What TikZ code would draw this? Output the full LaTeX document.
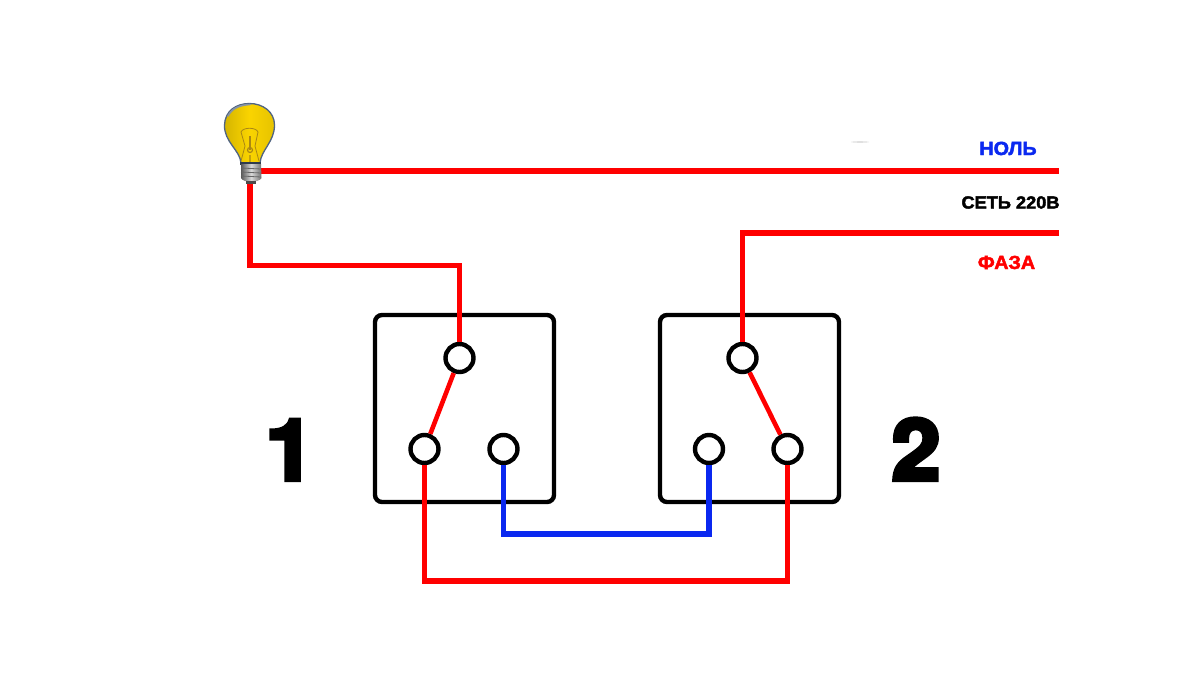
\documentclass[tikz,border=0pt]{standalone}
\usepackage{fontspec}
\setmainfont{Liberation Sans}
\newfontfamily\capfont[FakeBold=2.4,FakeStretch=1.04]{Liberation Sans Bold}
\newfontfamily\digitfont[FakeBold=5,FakeStretch=1.03]{TeX Gyre Heros Bold}
\definecolor{wirered}{RGB}{255,0,0}
\definecolor{wireblue}{RGB}{10,40,240}
\definecolor{bulbyellow}{RGB}{250,212,0}
\definecolor{bulbdark}{RGB}{170,135,20}
\definecolor{bulbedge}{RGB}{80,100,130}
\begin{document}
\begin{tikzpicture}[x=1pt,y=-1pt,
  switchbox/.style={draw=black,line width=4.4pt,rounded corners=7pt,minimum width=179pt,minimum height=187pt,inner sep=0pt,fill=white},
  terminal/.style={draw=black,line width=4.4pt,circle,minimum size=28pt,inner sep=0pt,fill=white},
  redwire/.style={draw=wirered,line width=5.2pt,line join=miter},
  bluewire/.style={draw=wireblue,line width=5.2pt,line join=miter},
  switchwire/.style={draw=wirered,line width=4.6pt},
  caption/.style={inner sep=0pt,anchor=base},
  bigcaption/.style={caption,font=\capfont\fontsize{19}{19}\selectfont},
  smallcaption/.style={caption,font=\capfont\fontsize{17.5}{17}\selectfont},
  numeral/.style={font=\digitfont\fontsize{85}{85}\selectfont,inner sep=0pt,anchor=base}]
\useasboundingbox (0,0) rectangle (1200,675);
\fill[white] (0,0) rectangle (1200,675);

% faint smudge
\fill[black!12] (860,142) ellipse (9pt and 0.8pt);

% switch boxes
\node[switchbox] (boxA) at (464.5,408.5) {};
\node[switchbox] (boxB) at (749.5,408.5) {};

% terminals
\node[terminal] (a1) at (459.5,358) {};
\node[terminal] (a2) at (424.5,449) {};
\node[terminal] (a3) at (503.5,449) {};
\node[terminal] (b1) at (742.5,358) {};
\node[terminal] (b2) at (709,449) {};
\node[terminal] (b3) at (787.5,449) {};

% free ends
\coordinate (lampR) at (259,171);
\coordinate (lampB) at (250,184);
\coordinate (nullEnd) at (1059,171);
\coordinate (phaseEnd) at (1059,233);
\coordinate (lampT) at (250,265.5);
\coordinate (phaseT) at (742.5,233);
\coordinate (loopL) at (424.5,581);
\coordinate (loopR) at (787.5,581);
\coordinate (blueL) at (503.5,534);
\coordinate (blueR) at (709,534);

% wires
\draw[redwire] (lampR) -- (nullEnd);
\draw[redwire] (phaseEnd) -- (phaseT) -- (b1.north);
\draw[redwire] (lampB) -- (lampT) -| (a1.north);
\draw[redwire] (a2.south) -- (loopL) -- (loopR) -- (b3.south);
\draw[bluewire] (a3.south) -- (blueL) -- (blueR) -- (b2.south);
\draw[switchwire] (a1) -- (a2);
\draw[switchwire] (b1) -- (b3);

% bulb
\begin{scope}
  \path[left color=bulbyellow!85!black,right color=bulbyellow!92!black,middle color=bulbyellow,draw=bulbedge,line width=1.3pt]
    (241,163) .. controls (240,150) and (224,142) .. (224.5,125)
    .. controls (225,111) and (236,103.5) .. (249.5,103.5)
    .. controls (263,103.5) and (274.5,112) .. (274.5,125)
    .. controls (274.5,142) and (261,150) .. (260,163) -- cycle;
  \draw[bulbedge!70,line width=1.6pt,line cap=round] (228,116) .. controls (232,108) and (240,105) .. (250,104.5);
  \draw[bulbdark,line width=0.8pt] (241,161) -- (245,146) -- (241,132) .. controls (243,127) and (256,127) .. (258,132) -- (255,146) -- (259,161);
  \draw[bulbdark,line width=2.4pt] (250,136) -- (250,150);
  \draw[bulbdark,line width=1.2pt] (250,150) circle (2.5pt) (250,155) -- (250,162);
\end{scope}
\fill[bulbedge!60!black] (240,162) rectangle (261,164.5);
\path[left color=black!65,right color=black!55,middle color=black!15]
  (241,164) -- (261,164) -- (261.5,178) .. controls (259,183) and (243,183) .. (241,178) -- cycle;
\foreach \yy in {168,172,176}{\draw[black!60,line width=0.8pt] (241,\yy) -- (261,\yy+1);}
\fill[black!70] (246,181) rectangle (256,184);

% captions
\node[bigcaption,text=wireblue] (tNull) at (1008,155) {НОЛЬ};
\node[smallcaption] (tNet) at (1010.5,208.5) {СЕТЬ 220В};
\node[bigcaption,text=wirered] (tPhase) at (1006.5,269) {ФАЗА};
\node[numeral] (n1) at (290,480) {1};
\node[numeral] (n2) at (916,480) {2};
\end{tikzpicture}
\end{document}
